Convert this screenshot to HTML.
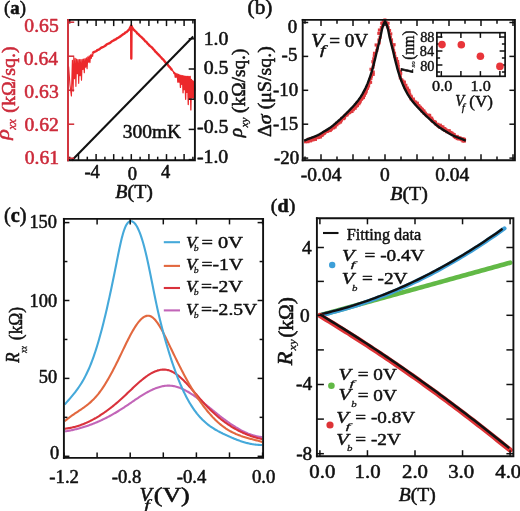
<!DOCTYPE html>
<html><head><meta charset="utf-8"><title>Figure</title>
<style>html,body{margin:0;padding:0;background:#fff;}body{width:520px;height:511px;overflow:hidden;}svg{display:block;}</style>
</head><body><svg width="520" height="511" viewBox="0 0 520 511"><path d="M92.50,53.09 L93.50,52.33 L94.50,51.77 L95.50,51.40 L96.50,51.00 L97.50,49.89 L98.50,49.83 L99.50,49.24 L100.50,48.22 L101.50,47.68 L102.50,47.10 L103.50,46.77 L104.50,46.26 L105.50,45.60 L106.50,44.55 L107.50,43.94 L108.50,43.60 L109.50,43.17 L110.50,42.48 L111.50,41.66 L112.50,40.92 L113.50,40.64 L114.50,39.78 L115.50,39.60 L116.50,38.76 L117.50,38.06 L118.50,37.73 L119.50,36.83 L120.50,36.32 L121.50,35.44 L122.50,34.73 L123.50,34.01 L124.50,33.54 L125.50,32.39 L126.50,32.03 L127.50,31.15 L128.50,30.20 L129.50,28.90 L130.70,26.60 L131.20,25.60 L131.30,58.50 L131.50,25.80 L132.20,27.66 L133.20,29.24 L134.20,30.16 L135.20,31.10 L136.20,31.88 L137.20,33.39 L138.20,33.94 L139.20,35.13 L140.20,36.06 L141.20,36.92 L142.20,37.87 L143.20,38.81 L144.20,39.89 L145.20,41.20 L146.20,41.84 L147.20,43.05 L148.20,44.05 L149.20,45.22 L150.20,46.09 L151.20,46.92 L152.20,47.75 L153.20,49.08 L154.20,49.97 L155.20,51.43 L156.20,52.19 L157.20,53.35 L158.20,54.38 L159.20,55.38 L160.20,56.50 L161.20,57.50 L162.20,58.81 L163.20,59.54 L164.20,60.74 L165.20,62.14 L166.20,63.29 L167.20,63.97 L168.20,65.45 L169.20,66.58 L170.20,67.60 L171.20,69.06 L172.20,70.34" fill="none" stroke="#ec282b" stroke-width="2.4" stroke-linejoin="round"/><path d="M68.60,66.60 L70.00,85.00 L71.40,96.00 L72.40,60.25 L73.10,91.36 L73.80,57.00 L74.50,78.63 L75.20,58.25 L75.90,86.34 L76.60,59.18 L77.30,73.70 L78.00,59.50 L78.70,83.33 L79.40,59.56 L80.10,75.61 L80.80,59.56 L81.50,80.29 L82.20,59.40 L82.90,69.39 L83.60,59.09 L84.30,72.67 L85.00,58.60 L85.70,67.10 L86.40,57.75 L87.10,68.78 L87.80,56.84 L88.50,62.18 L89.20,55.82 L89.90,62.76 L90.60,54.83 L91.30,58.36 L92.00,53.90 L92.70,56.29 L93.00,53.30" fill="none" stroke="#ec282b" stroke-width="1.15" stroke-linejoin="round"/><path d="M172.00,70.30 L172.65,70.90 L173.30,71.34 L173.95,73.59 L174.60,72.38 L175.25,77.27 L175.90,73.42 L176.55,77.15 L177.20,73.96 L177.85,82.09 L178.50,74.45 L179.15,82.14 L179.80,74.94 L180.45,87.42 L181.10,75.42 L181.75,84.23 L182.40,75.65 L183.05,92.84 L183.70,75.89 L184.35,89.62 L185.00,76.12 L185.65,99.30 L186.30,76.31 L186.95,92.41 L187.60,76.37 L188.25,104.56 L188.90,76.43 L189.55,98.45 L190.20,76.49 L190.85,109.94 L191.50,79.42 L192.15,97.72 L192.80,80.66 L193.45,98.04 L194.10,81.44 L194.75,90.50 L194.20,81.50" fill="none" stroke="#ec282b" stroke-width="1.3" stroke-linejoin="round"/><line x1="71.8" y1="160.6" x2="193.2" y2="36.4" stroke="#111" stroke-width="2.1"/><path d="M68.0,19.9 L194.9,19.9 L194.9,160.3 L68.0,160.3" fill="none" stroke="#111" stroke-width="1.9" stroke-linejoin="miter" stroke-linecap="square"/><path d="M68.0,161.25 L68.0,18.95" fill="none" stroke="#d02c36" stroke-width="1.9"/><line x1="78.50" y1="19.9" x2="78.50" y2="26.10" stroke="#111" stroke-width="1.5"/><line x1="96.10" y1="19.9" x2="96.10" y2="26.10" stroke="#111" stroke-width="1.5"/><line x1="113.70" y1="19.9" x2="113.70" y2="26.10" stroke="#111" stroke-width="1.5"/><line x1="131.30" y1="19.9" x2="131.30" y2="26.10" stroke="#111" stroke-width="1.5"/><line x1="148.90" y1="19.9" x2="148.90" y2="26.10" stroke="#111" stroke-width="1.5"/><line x1="166.50" y1="19.9" x2="166.50" y2="26.10" stroke="#111" stroke-width="1.5"/><line x1="184.10" y1="19.9" x2="184.10" y2="26.10" stroke="#111" stroke-width="1.5"/><line x1="69.70" y1="19.9" x2="69.70" y2="23.50" stroke="#111" stroke-width="1.5"/><line x1="87.30" y1="19.9" x2="87.30" y2="23.50" stroke="#111" stroke-width="1.5"/><line x1="104.90" y1="19.9" x2="104.90" y2="23.50" stroke="#111" stroke-width="1.5"/><line x1="122.50" y1="19.9" x2="122.50" y2="23.50" stroke="#111" stroke-width="1.5"/><line x1="140.10" y1="19.9" x2="140.10" y2="23.50" stroke="#111" stroke-width="1.5"/><line x1="157.70" y1="19.9" x2="157.70" y2="23.50" stroke="#111" stroke-width="1.5"/><line x1="175.30" y1="19.9" x2="175.30" y2="23.50" stroke="#111" stroke-width="1.5"/><line x1="192.90" y1="19.9" x2="192.90" y2="23.50" stroke="#111" stroke-width="1.5"/><line x1="78.50" y1="160.3" x2="78.50" y2="154.10" stroke="#111" stroke-width="1.5"/><line x1="96.10" y1="160.3" x2="96.10" y2="154.10" stroke="#111" stroke-width="1.5"/><line x1="113.70" y1="160.3" x2="113.70" y2="154.10" stroke="#111" stroke-width="1.5"/><line x1="131.30" y1="160.3" x2="131.30" y2="154.10" stroke="#111" stroke-width="1.5"/><line x1="148.90" y1="160.3" x2="148.90" y2="154.10" stroke="#111" stroke-width="1.5"/><line x1="166.50" y1="160.3" x2="166.50" y2="154.10" stroke="#111" stroke-width="1.5"/><line x1="184.10" y1="160.3" x2="184.10" y2="154.10" stroke="#111" stroke-width="1.5"/><line x1="69.70" y1="160.3" x2="69.70" y2="156.70" stroke="#111" stroke-width="1.5"/><line x1="87.30" y1="160.3" x2="87.30" y2="156.70" stroke="#111" stroke-width="1.5"/><line x1="104.90" y1="160.3" x2="104.90" y2="156.70" stroke="#111" stroke-width="1.5"/><line x1="122.50" y1="160.3" x2="122.50" y2="156.70" stroke="#111" stroke-width="1.5"/><line x1="140.10" y1="160.3" x2="140.10" y2="156.70" stroke="#111" stroke-width="1.5"/><line x1="157.70" y1="160.3" x2="157.70" y2="156.70" stroke="#111" stroke-width="1.5"/><line x1="175.30" y1="160.3" x2="175.30" y2="156.70" stroke="#111" stroke-width="1.5"/><line x1="192.90" y1="160.3" x2="192.90" y2="156.70" stroke="#111" stroke-width="1.5"/><line x1="68.0" y1="22.20" x2="74.20" y2="22.20" stroke="#d02c36" stroke-width="1.5"/><line x1="68.0" y1="56.20" x2="74.20" y2="56.20" stroke="#d02c36" stroke-width="1.5"/><line x1="68.0" y1="90.20" x2="74.20" y2="90.20" stroke="#d02c36" stroke-width="1.5"/><line x1="68.0" y1="124.20" x2="74.20" y2="124.20" stroke="#d02c36" stroke-width="1.5"/><line x1="68.0" y1="158.20" x2="74.20" y2="158.20" stroke="#d02c36" stroke-width="1.5"/><line x1="194.9" y1="38.80" x2="188.70" y2="38.80" stroke="#111" stroke-width="1.5"/><line x1="194.9" y1="69.00" x2="188.70" y2="69.00" stroke="#111" stroke-width="1.5"/><line x1="194.9" y1="99.20" x2="188.70" y2="99.20" stroke="#111" stroke-width="1.5"/><line x1="194.9" y1="129.40" x2="188.70" y2="129.40" stroke="#111" stroke-width="1.5"/><line x1="194.9" y1="159.60" x2="188.70" y2="159.60" stroke="#111" stroke-width="1.5"/><g fill="#e0393e"><rect x="304.00" y="140.23" width="3.1" height="3.1"/><rect x="304.63" y="139.46" width="3.1" height="3.1"/><rect x="305.08" y="139.07" width="3.1" height="3.1"/><rect x="306.38" y="140.14" width="3.1" height="3.1"/><rect x="306.71" y="139.21" width="3.1" height="3.1"/><rect x="306.88" y="137.81" width="3.1" height="3.1"/><rect x="307.78" y="138.20" width="3.1" height="3.1"/><rect x="309.01" y="139.33" width="3.1" height="3.1"/><rect x="308.77" y="137.37" width="3.1" height="3.1"/><rect x="310.12" y="138.19" width="3.1" height="3.1"/><rect x="310.59" y="138.20" width="3.1" height="3.1"/><rect x="311.76" y="138.16" width="3.1" height="3.1"/><rect x="311.59" y="136.25" width="3.1" height="3.1"/><rect x="312.63" y="136.43" width="3.1" height="3.1"/><rect x="313.89" y="137.86" width="3.1" height="3.1"/><rect x="314.30" y="136.00" width="3.1" height="3.1"/><rect x="314.74" y="135.29" width="3.1" height="3.1"/><rect x="315.12" y="135.08" width="3.1" height="3.1"/><rect x="316.01" y="136.11" width="3.1" height="3.1"/><rect x="316.88" y="135.87" width="3.1" height="3.1"/><rect x="317.80" y="135.25" width="3.1" height="3.1"/><rect x="318.96" y="135.40" width="3.1" height="3.1"/><rect x="319.20" y="133.88" width="3.1" height="3.1"/><rect x="319.09" y="133.28" width="3.1" height="3.1"/><rect x="320.52" y="133.85" width="3.1" height="3.1"/><rect x="321.05" y="132.73" width="3.1" height="3.1"/><rect x="321.71" y="132.21" width="3.1" height="3.1"/><rect x="322.04" y="131.19" width="3.1" height="3.1"/><rect x="322.98" y="131.66" width="3.1" height="3.1"/><rect x="323.42" y="130.70" width="3.1" height="3.1"/><rect x="323.95" y="130.06" width="3.1" height="3.1"/><rect x="324.45" y="129.91" width="3.1" height="3.1"/><rect x="325.57" y="129.91" width="3.1" height="3.1"/><rect x="325.99" y="129.33" width="3.1" height="3.1"/><rect x="327.14" y="129.09" width="3.1" height="3.1"/><rect x="327.77" y="128.79" width="3.1" height="3.1"/><rect x="328.64" y="128.94" width="3.1" height="3.1"/><rect x="328.93" y="128.07" width="3.1" height="3.1"/><rect x="329.80" y="127.65" width="3.1" height="3.1"/><rect x="330.21" y="126.80" width="3.1" height="3.1"/><rect x="330.88" y="125.87" width="3.1" height="3.1"/><rect x="332.06" y="126.31" width="3.1" height="3.1"/><rect x="332.40" y="125.09" width="3.1" height="3.1"/><rect x="333.58" y="125.43" width="3.1" height="3.1"/><rect x="333.68" y="124.04" width="3.1" height="3.1"/><rect x="333.99" y="123.03" width="3.1" height="3.1"/><rect x="335.38" y="123.21" width="3.1" height="3.1"/><rect x="335.21" y="121.76" width="3.1" height="3.1"/><rect x="336.26" y="121.45" width="3.1" height="3.1"/><rect x="337.28" y="121.49" width="3.1" height="3.1"/><rect x="337.83" y="120.21" width="3.1" height="3.1"/><rect x="338.98" y="120.48" width="3.1" height="3.1"/><rect x="339.28" y="119.16" width="3.1" height="3.1"/><rect x="339.80" y="118.50" width="3.1" height="3.1"/><rect x="339.98" y="117.52" width="3.1" height="3.1"/><rect x="340.49" y="116.79" width="3.1" height="3.1"/><rect x="341.99" y="117.12" width="3.1" height="3.1"/><rect x="342.71" y="116.44" width="3.1" height="3.1"/><rect x="343.02" y="115.75" width="3.1" height="3.1"/><rect x="343.08" y="114.49" width="3.1" height="3.1"/><rect x="344.07" y="113.67" width="3.1" height="3.1"/><rect x="345.30" y="113.53" width="3.1" height="3.1"/><rect x="345.85" y="112.53" width="3.1" height="3.1"/><rect x="345.92" y="111.60" width="3.1" height="3.1"/><rect x="346.96" y="111.39" width="3.1" height="3.1"/><rect x="347.96" y="111.07" width="3.1" height="3.1"/><rect x="348.66" y="110.25" width="3.1" height="3.1"/><rect x="349.96" y="109.93" width="3.1" height="3.1"/><rect x="350.42" y="109.86" width="3.1" height="3.1"/><rect x="350.43" y="107.91" width="3.1" height="3.1"/><rect x="351.76" y="108.16" width="3.1" height="3.1"/><rect x="352.13" y="107.02" width="3.1" height="3.1"/><rect x="353.61" y="106.67" width="3.1" height="3.1"/><rect x="353.59" y="105.13" width="3.1" height="3.1"/><rect x="354.49" y="104.95" width="3.1" height="3.1"/><rect x="355.59" y="104.07" width="3.1" height="3.1"/><rect x="355.90" y="103.81" width="3.1" height="3.1"/><rect x="355.23" y="101.72" width="3.1" height="3.1"/><rect x="357.40" y="102.18" width="3.1" height="3.1"/><rect x="358.01" y="100.81" width="3.1" height="3.1"/><rect x="358.54" y="100.06" width="3.1" height="3.1"/><rect x="358.74" y="98.73" width="3.1" height="3.1"/><rect x="359.96" y="97.74" width="3.1" height="3.1"/><rect x="360.53" y="96.75" width="3.1" height="3.1"/><rect x="361.92" y="96.01" width="3.1" height="3.1"/><rect x="361.80" y="95.05" width="3.1" height="3.1"/><rect x="362.79" y="93.84" width="3.1" height="3.1"/><rect x="362.86" y="92.34" width="3.1" height="3.1"/><rect x="363.93" y="91.66" width="3.1" height="3.1"/><rect x="364.58" y="90.18" width="3.1" height="3.1"/><rect x="364.92" y="88.29" width="3.1" height="3.1"/><rect x="365.83" y="86.86" width="3.1" height="3.1"/><rect x="366.26" y="85.50" width="3.1" height="3.1"/><rect x="367.04" y="84.26" width="3.1" height="3.1"/><rect x="367.27" y="81.89" width="3.1" height="3.1"/><rect x="369.04" y="80.78" width="3.1" height="3.1"/><rect x="368.09" y="78.25" width="3.1" height="3.1"/><rect x="369.36" y="76.78" width="3.1" height="3.1"/><rect x="369.94" y="74.56" width="3.1" height="3.1"/><rect x="371.67" y="72.83" width="3.1" height="3.1"/><rect x="371.68" y="70.51" width="3.1" height="3.1"/><rect x="369.44" y="67.73" width="3.1" height="3.1"/><rect x="371.44" y="65.57" width="3.1" height="3.1"/><rect x="371.96" y="62.92" width="3.1" height="3.1"/><rect x="371.33" y="60.13" width="3.1" height="3.1"/><rect x="372.20" y="57.26" width="3.1" height="3.1"/><rect x="372.76" y="54.31" width="3.1" height="3.1"/><rect x="372.92" y="51.72" width="3.1" height="3.1"/><rect x="375.22" y="48.87" width="3.1" height="3.1"/><rect x="375.92" y="46.17" width="3.1" height="3.1"/><rect x="374.57" y="43.43" width="3.1" height="3.1"/><rect x="377.58" y="41.32" width="3.1" height="3.1"/><rect x="377.37" y="38.49" width="3.1" height="3.1"/><rect x="378.47" y="35.76" width="3.1" height="3.1"/><rect x="377.26" y="31.82" width="3.1" height="3.1"/><rect x="377.86" y="28.49" width="3.1" height="3.1"/><rect x="379.81" y="26.03" width="3.1" height="3.1"/><rect x="381.14" y="24.04" width="3.1" height="3.1"/><rect x="380.21" y="21.66" width="3.1" height="3.1"/><rect x="381.69" y="20.09" width="3.1" height="3.1"/><rect x="383.36" y="18.46" width="3.1" height="3.1"/><rect x="384.55" y="20.99" width="3.1" height="3.1"/><rect x="386.54" y="21.69" width="3.1" height="3.1"/><rect x="385.83" y="24.49" width="3.1" height="3.1"/><rect x="386.61" y="26.04" width="3.1" height="3.1"/><rect x="388.02" y="28.95" width="3.1" height="3.1"/><rect x="389.22" y="32.33" width="3.1" height="3.1"/><rect x="388.84" y="35.43" width="3.1" height="3.1"/><rect x="389.96" y="38.30" width="3.1" height="3.1"/><rect x="389.98" y="41.03" width="3.1" height="3.1"/><rect x="392.53" y="43.14" width="3.1" height="3.1"/><rect x="391.44" y="46.04" width="3.1" height="3.1"/><rect x="392.04" y="48.93" width="3.1" height="3.1"/><rect x="392.96" y="51.67" width="3.1" height="3.1"/><rect x="393.36" y="54.65" width="3.1" height="3.1"/><rect x="395.00" y="57.09" width="3.1" height="3.1"/><rect x="396.06" y="59.94" width="3.1" height="3.1"/><rect x="396.39" y="62.68" width="3.1" height="3.1"/><rect x="396.71" y="64.96" width="3.1" height="3.1"/><rect x="397.20" y="68.02" width="3.1" height="3.1"/><rect x="398.54" y="69.81" width="3.1" height="3.1"/><rect x="399.14" y="71.78" width="3.1" height="3.1"/><rect x="398.68" y="74.07" width="3.1" height="3.1"/><rect x="398.76" y="76.32" width="3.1" height="3.1"/><rect x="400.17" y="78.22" width="3.1" height="3.1"/><rect x="401.26" y="79.50" width="3.1" height="3.1"/><rect x="402.83" y="80.55" width="3.1" height="3.1"/><rect x="402.51" y="82.81" width="3.1" height="3.1"/><rect x="404.31" y="83.73" width="3.1" height="3.1"/><rect x="403.45" y="86.07" width="3.1" height="3.1"/><rect x="405.68" y="86.47" width="3.1" height="3.1"/><rect x="405.99" y="87.76" width="3.1" height="3.1"/><rect x="407.30" y="88.85" width="3.1" height="3.1"/><rect x="407.49" y="90.43" width="3.1" height="3.1"/><rect x="407.27" y="91.88" width="3.1" height="3.1"/><rect x="408.20" y="92.83" width="3.1" height="3.1"/><rect x="408.10" y="94.32" width="3.1" height="3.1"/><rect x="409.64" y="94.71" width="3.1" height="3.1"/><rect x="409.76" y="95.99" width="3.1" height="3.1"/><rect x="409.58" y="97.36" width="3.1" height="3.1"/><rect x="411.79" y="97.49" width="3.1" height="3.1"/><rect x="411.82" y="98.85" width="3.1" height="3.1"/><rect x="412.27" y="99.66" width="3.1" height="3.1"/><rect x="413.39" y="100.45" width="3.1" height="3.1"/><rect x="414.11" y="100.71" width="3.1" height="3.1"/><rect x="414.40" y="101.94" width="3.1" height="3.1"/><rect x="415.79" y="101.65" width="3.1" height="3.1"/><rect x="415.89" y="103.23" width="3.1" height="3.1"/><rect x="416.20" y="104.07" width="3.1" height="3.1"/><rect x="417.27" y="104.04" width="3.1" height="3.1"/><rect x="417.71" y="105.44" width="3.1" height="3.1"/><rect x="418.80" y="105.76" width="3.1" height="3.1"/><rect x="419.22" y="106.76" width="3.1" height="3.1"/><rect x="420.09" y="107.33" width="3.1" height="3.1"/><rect x="420.76" y="107.95" width="3.1" height="3.1"/><rect x="420.50" y="109.44" width="3.1" height="3.1"/><rect x="422.23" y="109.25" width="3.1" height="3.1"/><rect x="422.43" y="110.32" width="3.1" height="3.1"/><rect x="422.65" y="111.66" width="3.1" height="3.1"/><rect x="423.78" y="111.59" width="3.1" height="3.1"/><rect x="424.15" y="112.74" width="3.1" height="3.1"/><rect x="424.68" y="113.15" width="3.1" height="3.1"/><rect x="425.46" y="114.09" width="3.1" height="3.1"/><rect x="426.82" y="113.68" width="3.1" height="3.1"/><rect x="428.08" y="113.81" width="3.1" height="3.1"/><rect x="428.00" y="114.91" width="3.1" height="3.1"/><rect x="428.16" y="115.88" width="3.1" height="3.1"/><rect x="428.78" y="116.86" width="3.1" height="3.1"/><rect x="430.12" y="116.62" width="3.1" height="3.1"/><rect x="429.95" y="118.34" width="3.1" height="3.1"/><rect x="430.94" y="118.46" width="3.1" height="3.1"/><rect x="430.93" y="119.66" width="3.1" height="3.1"/><rect x="432.09" y="119.90" width="3.1" height="3.1"/><rect x="432.67" y="120.12" width="3.1" height="3.1"/><rect x="433.90" y="120.69" width="3.1" height="3.1"/><rect x="433.79" y="121.50" width="3.1" height="3.1"/><rect x="434.35" y="122.52" width="3.1" height="3.1"/><rect x="435.46" y="122.97" width="3.1" height="3.1"/><rect x="436.28" y="122.77" width="3.1" height="3.1"/><rect x="436.53" y="123.87" width="3.1" height="3.1"/><rect x="436.81" y="124.62" width="3.1" height="3.1"/><rect x="438.80" y="123.65" width="3.1" height="3.1"/><rect x="438.17" y="125.66" width="3.1" height="3.1"/><rect x="439.62" y="125.26" width="3.1" height="3.1"/><rect x="440.38" y="125.56" width="3.1" height="3.1"/><rect x="441.38" y="125.40" width="3.1" height="3.1"/><rect x="441.38" y="127.02" width="3.1" height="3.1"/><rect x="441.90" y="126.98" width="3.1" height="3.1"/><rect x="443.25" y="127.06" width="3.1" height="3.1"/><rect x="442.96" y="128.38" width="3.1" height="3.1"/><rect x="443.84" y="128.30" width="3.1" height="3.1"/><rect x="444.67" y="128.50" width="3.1" height="3.1"/><rect x="444.94" y="129.70" width="3.1" height="3.1"/><rect x="445.55" y="130.26" width="3.1" height="3.1"/><rect x="446.77" y="129.36" width="3.1" height="3.1"/><rect x="447.75" y="129.22" width="3.1" height="3.1"/><rect x="447.62" y="131.08" width="3.1" height="3.1"/><rect x="449.18" y="130.88" width="3.1" height="3.1"/><rect x="449.08" y="131.49" width="3.1" height="3.1"/><rect x="449.96" y="131.70" width="3.1" height="3.1"/><rect x="450.61" y="131.74" width="3.1" height="3.1"/><rect x="451.50" y="132.80" width="3.1" height="3.1"/><rect x="451.97" y="132.88" width="3.1" height="3.1"/><rect x="452.73" y="133.15" width="3.1" height="3.1"/><rect x="452.68" y="134.90" width="3.1" height="3.1"/><rect x="453.44" y="135.25" width="3.1" height="3.1"/><rect x="454.00" y="135.78" width="3.1" height="3.1"/><rect x="454.61" y="136.03" width="3.1" height="3.1"/><rect x="455.69" y="134.88" width="3.1" height="3.1"/><rect x="455.67" y="137.00" width="3.1" height="3.1"/><rect x="456.97" y="136.46" width="3.1" height="3.1"/><rect x="457.12" y="137.32" width="3.1" height="3.1"/><rect x="458.43" y="136.29" width="3.1" height="3.1"/><rect x="458.51" y="137.20" width="3.1" height="3.1"/><rect x="459.51" y="137.41" width="3.1" height="3.1"/><rect x="460.06" y="138.00" width="3.1" height="3.1"/><rect x="460.63" y="138.33" width="3.1" height="3.1"/><rect x="461.52" y="137.25" width="3.1" height="3.1"/><rect x="461.48" y="139.49" width="3.1" height="3.1"/><rect x="462.88" y="137.82" width="3.1" height="3.1"/><rect x="462.91" y="139.43" width="3.1" height="3.1"/></g><path d="M304.20,140.75 L304.60,140.55 L305.01,140.36 L305.41,140.17 L305.82,139.99 L306.22,139.81 L306.62,139.63 L307.03,139.46 L307.43,139.30 L307.84,139.13 L308.24,138.97 L308.64,138.82 L309.05,138.66 L309.45,138.51 L309.86,138.36 L310.26,138.21 L310.66,138.06 L311.07,137.91 L311.47,137.77 L311.88,137.62 L312.28,137.47 L312.68,137.32 L313.09,137.17 L313.49,137.02 L313.90,136.86 L314.30,136.71 L314.70,136.55 L315.11,136.38 L315.51,136.22 L315.92,136.05 L316.32,135.87 L316.72,135.69 L317.13,135.51 L317.53,135.32 L317.94,135.13 L318.34,134.92 L318.74,134.71 L319.15,134.48 L319.55,134.25 L319.96,134.02 L320.36,133.78 L320.76,133.53 L321.17,133.29 L321.57,133.04 L321.98,132.79 L322.38,132.53 L322.78,132.29 L323.19,132.04 L323.59,131.79 L324.00,131.55 L324.40,131.31 L324.80,131.07 L325.21,130.84 L325.61,130.60 L326.02,130.36 L326.42,130.12 L326.82,129.88 L327.23,129.63 L327.63,129.39 L328.04,129.14 L328.44,128.88 L328.84,128.62 L329.25,128.35 L329.65,128.08 L330.06,127.80 L330.46,127.51 L330.86,127.22 L331.27,126.91 L331.67,126.60 L332.08,126.29 L332.48,125.96 L332.88,125.64 L333.29,125.30 L333.69,124.96 L334.10,124.62 L334.50,124.28 L334.90,123.93 L335.31,123.58 L335.71,123.23 L336.12,122.87 L336.52,122.52 L336.92,122.16 L337.33,121.81 L337.73,121.45 L338.14,121.09 L338.54,120.74 L338.94,120.38 L339.35,120.02 L339.75,119.65 L340.16,119.29 L340.56,118.92 L340.96,118.55 L341.37,118.18 L341.77,117.81 L342.18,117.44 L342.58,117.06 L342.98,116.68 L343.39,116.30 L343.79,115.92 L344.20,115.53 L344.60,115.14 L345.00,114.75 L345.41,114.35 L345.81,113.95 L346.22,113.55 L346.62,113.15 L347.02,112.74 L347.43,112.33 L347.83,111.91 L348.24,111.49 L348.64,111.08 L349.04,110.66 L349.45,110.24 L349.85,109.82 L350.26,109.40 L350.66,108.98 L351.06,108.56 L351.47,108.13 L351.87,107.71 L352.28,107.28 L352.68,106.84 L353.08,106.41 L353.49,105.97 L353.89,105.52 L354.30,105.07 L354.70,104.61 L355.10,104.14 L355.51,103.67 L355.91,103.20 L356.32,102.71 L356.72,102.21 L357.12,101.71 L357.53,101.20 L357.93,100.68 L358.34,100.15 L358.74,99.60 L359.14,99.05 L359.55,98.49 L359.95,97.91 L360.36,97.32 L360.76,96.71 L361.16,96.08 L361.57,95.43 L361.97,94.77 L362.38,94.09 L362.78,93.39 L363.18,92.67 L363.59,91.94 L363.99,91.18 L364.40,90.40 L364.80,89.61 L365.20,88.79 L365.61,87.96 L366.01,87.10 L366.42,86.22 L366.82,85.31 L367.22,84.36 L367.63,83.38 L368.03,82.36 L368.44,81.31 L368.84,80.22 L369.24,79.11 L369.65,77.96 L370.05,76.79 L370.46,75.58 L370.86,74.35 L371.26,73.10 L371.67,71.81 L372.07,70.48 L372.48,69.07 L372.88,67.59 L373.28,66.05 L373.69,64.48 L374.09,62.89 L374.50,61.29 L374.90,59.64 L375.30,57.94 L375.71,56.20 L376.11,54.45 L376.52,52.72 L376.92,51.02 L377.32,49.37 L377.73,47.76 L378.13,46.17 L378.54,44.59 L378.94,43.00 L379.34,41.39 L379.75,39.75 L380.15,38.04 L380.56,36.18 L380.96,34.20 L381.36,32.20 L381.77,30.29 L382.17,28.56 L382.58,27.11 L382.98,25.88 L383.38,24.72 L383.79,23.67 L384.19,22.73 L384.60,21.93 L385.00,21.29 L385.40,21.93 L385.81,22.73 L386.21,23.67 L386.62,24.72 L387.02,25.88 L387.42,27.11 L387.83,28.56 L388.23,30.29 L388.64,32.20 L389.04,34.20 L389.44,36.18 L389.85,38.04 L390.25,39.75 L390.66,41.39 L391.06,43.00 L391.46,44.59 L391.87,46.17 L392.27,47.76 L392.68,49.37 L393.08,51.02 L393.48,52.72 L393.89,54.45 L394.29,56.20 L394.70,57.94 L395.10,59.64 L395.50,61.29 L395.91,62.89 L396.31,64.48 L396.72,66.05 L397.12,67.59 L397.52,69.07 L397.93,70.48 L398.33,71.81 L398.74,73.10 L399.14,74.35 L399.54,75.58 L399.95,76.79 L400.35,77.96 L400.76,79.11 L401.16,80.22 L401.56,81.31 L401.97,82.36 L402.37,83.38 L402.78,84.36 L403.18,85.31 L403.58,86.22 L403.99,87.10 L404.39,87.96 L404.80,88.79 L405.20,89.61 L405.60,90.40 L406.01,91.18 L406.41,91.94 L406.82,92.67 L407.22,93.39 L407.62,94.09 L408.03,94.77 L408.43,95.43 L408.84,96.08 L409.24,96.71 L409.64,97.32 L410.05,97.91 L410.45,98.49 L410.86,99.05 L411.26,99.60 L411.66,100.15 L412.07,100.68 L412.47,101.20 L412.88,101.71 L413.28,102.21 L413.68,102.71 L414.09,103.20 L414.49,103.67 L414.90,104.14 L415.30,104.61 L415.70,105.07 L416.11,105.52 L416.51,105.97 L416.92,106.41 L417.32,106.84 L417.72,107.28 L418.13,107.71 L418.53,108.13 L418.94,108.56 L419.34,108.98 L419.74,109.40 L420.15,109.82 L420.55,110.24 L420.96,110.66 L421.36,111.08 L421.76,111.49 L422.17,111.91 L422.57,112.33 L422.98,112.74 L423.38,113.15 L423.78,113.55 L424.19,113.95 L424.59,114.35 L425.00,114.75 L425.40,115.14 L425.80,115.53 L426.21,115.92 L426.61,116.30 L427.02,116.68 L427.42,117.06 L427.82,117.44 L428.23,117.81 L428.63,118.18 L429.04,118.55 L429.44,118.92 L429.84,119.29 L430.25,119.65 L430.65,120.02 L431.06,120.38 L431.46,120.74 L431.86,121.09 L432.27,121.45 L432.67,121.81 L433.08,122.16 L433.48,122.52 L433.88,122.87 L434.29,123.23 L434.69,123.58 L435.10,123.93 L435.50,124.28 L435.90,124.62 L436.31,124.96 L436.71,125.30 L437.12,125.64 L437.52,125.96 L437.92,126.29 L438.33,126.60 L438.73,126.91 L439.14,127.22 L439.54,127.51 L439.94,127.80 L440.35,128.08 L440.75,128.35 L441.16,128.62 L441.56,128.88 L441.96,129.14 L442.37,129.39 L442.77,129.63 L443.18,129.88 L443.58,130.12 L443.98,130.36 L444.39,130.60 L444.79,130.84 L445.20,131.07 L445.60,131.31 L446.00,131.55 L446.41,131.79 L446.81,132.04 L447.22,132.29 L447.62,132.53 L448.02,132.79 L448.43,133.04 L448.83,133.29 L449.24,133.53 L449.64,133.78 L450.04,134.02 L450.45,134.25 L450.85,134.48 L451.26,134.71 L451.66,134.92 L452.06,135.13 L452.47,135.32 L452.87,135.51 L453.28,135.69 L453.68,135.87 L454.08,136.05 L454.49,136.22 L454.89,136.38 L455.30,136.55 L455.70,136.71 L456.10,136.86 L456.51,137.02 L456.91,137.17 L457.32,137.32 L457.72,137.47 L458.12,137.62 L458.53,137.77 L458.93,137.91 L459.34,138.06 L459.74,138.21 L460.14,138.36 L460.55,138.51 L460.95,138.66 L461.36,138.82 L461.76,138.97 L462.16,139.13 L462.57,139.30 L462.97,139.46 L463.38,139.63 L463.78,139.81 L464.18,139.99 L464.59,140.17 L464.99,140.36 L465.40,140.55 L465.80,140.75" fill="none" stroke="#111" stroke-width="2.4" stroke-linejoin="round"/><path d="M302.7,19.9 L514.9,19.9 L514.9,160.3 L302.7,160.3" fill="none" stroke="#111" stroke-width="1.9" stroke-linejoin="miter" stroke-linecap="square"/><path d="M302.7,161.25 L302.7,18.95" fill="none" stroke="#111" stroke-width="1.9"/><line x1="321.00" y1="160.3" x2="321.00" y2="154.30" stroke="#111" stroke-width="1.5"/><line x1="353.00" y1="160.3" x2="353.00" y2="154.30" stroke="#111" stroke-width="1.5"/><line x1="385.00" y1="160.3" x2="385.00" y2="154.30" stroke="#111" stroke-width="1.5"/><line x1="417.00" y1="160.3" x2="417.00" y2="154.30" stroke="#111" stroke-width="1.5"/><line x1="449.00" y1="160.3" x2="449.00" y2="154.30" stroke="#111" stroke-width="1.5"/><line x1="481.00" y1="160.3" x2="481.00" y2="154.30" stroke="#111" stroke-width="1.5"/><line x1="513.00" y1="160.3" x2="513.00" y2="154.30" stroke="#111" stroke-width="1.5"/><line x1="321.00" y1="19.9" x2="321.00" y2="25.90" stroke="#111" stroke-width="1.5"/><line x1="353.00" y1="19.9" x2="353.00" y2="25.90" stroke="#111" stroke-width="1.5"/><line x1="385.00" y1="19.9" x2="385.00" y2="25.90" stroke="#111" stroke-width="1.5"/><line x1="417.00" y1="19.9" x2="417.00" y2="25.90" stroke="#111" stroke-width="1.5"/><line x1="449.00" y1="19.9" x2="449.00" y2="25.90" stroke="#111" stroke-width="1.5"/><line x1="481.00" y1="19.9" x2="481.00" y2="25.90" stroke="#111" stroke-width="1.5"/><line x1="513.00" y1="19.9" x2="513.00" y2="25.90" stroke="#111" stroke-width="1.5"/><line x1="305.00" y1="160.3" x2="305.00" y2="156.50" stroke="#111" stroke-width="1.5"/><line x1="337.00" y1="160.3" x2="337.00" y2="156.50" stroke="#111" stroke-width="1.5"/><line x1="369.00" y1="160.3" x2="369.00" y2="156.50" stroke="#111" stroke-width="1.5"/><line x1="401.00" y1="160.3" x2="401.00" y2="156.50" stroke="#111" stroke-width="1.5"/><line x1="433.00" y1="160.3" x2="433.00" y2="156.50" stroke="#111" stroke-width="1.5"/><line x1="465.00" y1="160.3" x2="465.00" y2="156.50" stroke="#111" stroke-width="1.5"/><line x1="497.00" y1="160.3" x2="497.00" y2="156.50" stroke="#111" stroke-width="1.5"/><line x1="305.00" y1="19.9" x2="305.00" y2="23.70" stroke="#111" stroke-width="1.5"/><line x1="337.00" y1="19.9" x2="337.00" y2="23.70" stroke="#111" stroke-width="1.5"/><line x1="369.00" y1="19.9" x2="369.00" y2="23.70" stroke="#111" stroke-width="1.5"/><line x1="401.00" y1="19.9" x2="401.00" y2="23.70" stroke="#111" stroke-width="1.5"/><line x1="433.00" y1="19.9" x2="433.00" y2="23.70" stroke="#111" stroke-width="1.5"/><line x1="465.00" y1="19.9" x2="465.00" y2="23.70" stroke="#111" stroke-width="1.5"/><line x1="497.00" y1="19.9" x2="497.00" y2="23.70" stroke="#111" stroke-width="1.5"/><line x1="302.7" y1="22.50" x2="308.20" y2="22.50" stroke="#111" stroke-width="1.5"/><line x1="302.7" y1="56.40" x2="308.20" y2="56.40" stroke="#111" stroke-width="1.5"/><line x1="302.7" y1="90.30" x2="308.20" y2="90.30" stroke="#111" stroke-width="1.5"/><line x1="302.7" y1="124.20" x2="308.20" y2="124.20" stroke="#111" stroke-width="1.5"/><line x1="302.7" y1="158.10" x2="308.20" y2="158.10" stroke="#111" stroke-width="1.5"/><line x1="514.9" y1="22.50" x2="509.40" y2="22.50" stroke="#111" stroke-width="1.5"/><line x1="514.9" y1="56.40" x2="509.40" y2="56.40" stroke="#111" stroke-width="1.5"/><line x1="514.9" y1="90.30" x2="509.40" y2="90.30" stroke="#111" stroke-width="1.5"/><line x1="514.9" y1="124.20" x2="509.40" y2="124.20" stroke="#111" stroke-width="1.5"/><line x1="514.9" y1="158.10" x2="509.40" y2="158.10" stroke="#111" stroke-width="1.5"/><rect x="436.9" y="32.7" width="68.20" height="43.60" fill="#fff" stroke="#111" stroke-width="1.7"/><line x1="441.30" y1="76.3" x2="441.30" y2="71.10" stroke="#111" stroke-width="1.5"/><line x1="460.90" y1="76.3" x2="460.90" y2="71.10" stroke="#111" stroke-width="1.5"/><line x1="480.40" y1="76.3" x2="480.40" y2="71.10" stroke="#111" stroke-width="1.5"/><line x1="499.90" y1="76.3" x2="499.90" y2="71.10" stroke="#111" stroke-width="1.5"/><line x1="441.30" y1="32.7" x2="441.30" y2="37.90" stroke="#111" stroke-width="1.5"/><line x1="460.90" y1="32.7" x2="460.90" y2="37.90" stroke="#111" stroke-width="1.5"/><line x1="480.40" y1="32.7" x2="480.40" y2="37.90" stroke="#111" stroke-width="1.5"/><line x1="499.90" y1="32.7" x2="499.90" y2="37.90" stroke="#111" stroke-width="1.5"/><line x1="436.9" y1="37.00" x2="442.40" y2="37.00" stroke="#111" stroke-width="1.5"/><line x1="436.9" y1="51.00" x2="442.40" y2="51.00" stroke="#111" stroke-width="1.5"/><line x1="436.9" y1="65.00" x2="442.40" y2="65.00" stroke="#111" stroke-width="1.5"/><line x1="436.9" y1="44.00" x2="440.10" y2="44.00" stroke="#111" stroke-width="1.5"/><line x1="436.9" y1="58.00" x2="440.10" y2="58.00" stroke="#111" stroke-width="1.5"/><line x1="436.9" y1="72.00" x2="440.10" y2="72.00" stroke="#111" stroke-width="1.5"/><line x1="505.1" y1="37.00" x2="499.60" y2="37.00" stroke="#111" stroke-width="1.5"/><line x1="505.1" y1="51.00" x2="499.60" y2="51.00" stroke="#111" stroke-width="1.5"/><line x1="505.1" y1="65.00" x2="499.60" y2="65.00" stroke="#111" stroke-width="1.5"/><line x1="505.1" y1="44.00" x2="501.90" y2="44.00" stroke="#111" stroke-width="1.5"/><line x1="505.1" y1="58.00" x2="501.90" y2="58.00" stroke="#111" stroke-width="1.5"/><line x1="505.1" y1="72.00" x2="501.90" y2="72.00" stroke="#111" stroke-width="1.5"/><circle cx="442.0" cy="44.6" r="3.8" fill="#e8353a"/><circle cx="461.3" cy="44.7" r="3.8" fill="#e8353a"/><circle cx="480.4" cy="56.2" r="3.8" fill="#e8353a"/><circle cx="499.9" cy="66.4" r="3.8" fill="#e8353a"/><path d="M64.70,431.45 L65.53,431.32 L66.35,431.19 L67.18,431.05 L68.01,430.91 L68.83,430.76 L69.66,430.60 L70.49,430.44 L71.31,430.28 L72.14,430.10 L72.97,429.92 L73.79,429.74 L74.62,429.55 L75.45,429.35 L76.27,429.15 L77.10,428.94 L77.93,428.73 L78.76,428.51 L79.58,428.28 L80.41,428.05 L81.24,427.81 L82.06,427.57 L82.89,427.32 L83.72,427.06 L84.54,426.80 L85.37,426.54 L86.20,426.26 L87.02,425.99 L87.85,425.70 L88.68,425.41 L89.50,425.11 L90.33,424.81 L91.16,424.50 L91.98,424.19 L92.81,423.87 L93.64,423.54 L94.46,423.21 L95.29,422.88 L96.12,422.53 L96.94,422.18 L97.77,421.83 L98.60,421.47 L99.42,421.10 L100.25,420.72 L101.08,420.34 L101.91,419.96 L102.73,419.57 L103.56,419.17 L104.39,418.77 L105.21,418.36 L106.04,417.94 L106.87,417.52 L107.69,417.10 L108.52,416.66 L109.35,416.22 L110.17,415.78 L111.00,415.33 L111.83,414.87 L112.65,414.41 L113.48,413.94 L114.31,413.46 L115.13,412.98 L115.96,412.49 L116.79,412.00 L117.61,411.50 L118.44,411.00 L119.27,410.48 L120.09,409.97 L120.92,409.44 L121.75,408.91 L122.57,408.38 L123.40,407.84 L124.23,407.29 L125.05,406.74 L125.88,406.19 L126.71,405.63 L127.54,405.07 L128.36,404.51 L129.19,403.94 L130.02,403.38 L130.84,402.81 L131.67,402.25 L132.50,401.68 L133.32,401.12 L134.15,400.55 L134.98,399.99 L135.80,399.44 L136.63,398.88 L137.46,398.33 L138.28,397.78 L139.11,397.24 L139.94,396.71 L140.76,396.18 L141.59,395.65 L142.42,395.14 L143.24,394.63 L144.07,394.13 L144.90,393.64 L145.72,393.15 L146.55,392.68 L147.38,392.22 L148.20,391.77 L149.03,391.33 L149.86,390.90 L150.68,390.48 L151.51,390.08 L152.34,389.69 L153.17,389.32 L153.99,388.96 L154.82,388.61 L155.65,388.28 L156.47,387.97 L157.30,387.67 L158.13,387.40 L158.95,387.14 L159.78,386.89 L160.61,386.67 L161.43,386.47 L162.26,386.28 L163.09,386.12 L163.91,385.98 L164.74,385.86 L165.57,385.77 L166.39,385.69 L167.22,385.64 L168.05,385.62 L168.87,385.61 L169.70,385.64 L170.53,385.69 L171.35,385.76 L172.18,385.86 L173.01,385.98 L173.83,386.13 L174.66,386.30 L175.49,386.50 L176.32,386.71 L177.14,386.95 L177.97,387.21 L178.80,387.49 L179.62,387.79 L180.45,388.11 L181.28,388.45 L182.10,388.80 L182.93,389.18 L183.76,389.57 L184.58,389.98 L185.41,390.41 L186.24,390.85 L187.06,391.31 L187.89,391.78 L188.72,392.27 L189.54,392.77 L190.37,393.29 L191.20,393.81 L192.02,394.35 L192.85,394.90 L193.68,395.47 L194.50,396.04 L195.33,396.62 L196.16,397.21 L196.98,397.82 L197.81,398.43 L198.64,399.04 L199.46,399.67 L200.29,400.30 L201.12,400.94 L201.95,401.59 L202.77,402.24 L203.60,402.89 L204.43,403.55 L205.25,404.21 L206.08,404.88 L206.91,405.55 L207.73,406.22 L208.56,406.89 L209.39,407.57 L210.21,408.24 L211.04,408.91 L211.87,409.59 L212.69,410.26 L213.52,410.93 L214.35,411.60 L215.17,412.27 L216.00,412.93 L216.83,413.59 L217.65,414.25 L218.48,414.90 L219.31,415.55 L220.13,416.20 L220.96,416.84 L221.79,417.47 L222.61,418.10 L223.44,418.73 L224.27,419.35 L225.09,419.96 L225.92,420.57 L226.75,421.17 L227.58,421.76 L228.40,422.35 L229.23,422.93 L230.06,423.50 L230.88,424.06 L231.71,424.62 L232.54,425.17 L233.36,425.71 L234.19,426.24 L235.02,426.76 L235.84,427.27 L236.67,427.77 L237.50,428.26 L238.32,428.74 L239.15,429.21 L239.98,429.67 L240.80,430.12 L241.63,430.56 L242.46,430.99 L243.28,431.40 L244.11,431.81 L244.94,432.20 L245.76,432.57 L246.59,432.94 L247.42,433.29 L248.24,433.63 L249.07,433.95 L249.90,434.26 L250.73,434.56 L251.55,434.84 L252.38,435.10 L253.21,435.36 L254.03,435.59 L254.86,435.81 L255.69,436.02 L256.51,436.21 L257.34,436.38 L258.17,436.53 L258.99,436.67 L259.82,436.79 L260.65,436.90 L261.47,436.98 L262.30,437.05" fill="none" stroke="#c265b8" stroke-width="2.1" stroke-linejoin="round"/><path d="M64.70,428.69 L65.53,428.61 L66.35,428.51 L67.18,428.40 L68.01,428.28 L68.83,428.15 L69.66,428.01 L70.49,427.85 L71.31,427.69 L72.14,427.51 L72.97,427.32 L73.79,427.12 L74.62,426.91 L75.45,426.69 L76.27,426.46 L77.10,426.22 L77.93,425.97 L78.76,425.70 L79.58,425.43 L80.41,425.15 L81.24,424.85 L82.06,424.54 L82.89,424.23 L83.72,423.90 L84.54,423.56 L85.37,423.22 L86.20,422.86 L87.02,422.49 L87.85,422.11 L88.68,421.72 L89.50,421.33 L90.33,420.92 L91.16,420.50 L91.98,420.07 L92.81,419.63 L93.64,419.19 L94.46,418.73 L95.29,418.26 L96.12,417.79 L96.94,417.30 L97.77,416.80 L98.60,416.30 L99.42,415.78 L100.25,415.26 L101.08,414.73 L101.91,414.18 L102.73,413.63 L103.56,413.07 L104.39,412.50 L105.21,411.92 L106.04,411.33 L106.87,410.73 L107.69,410.13 L108.52,409.51 L109.35,408.89 L110.17,408.26 L111.00,407.61 L111.83,406.96 L112.65,406.31 L113.48,405.64 L114.31,404.96 L115.13,404.28 L115.96,403.59 L116.79,402.88 L117.61,402.18 L118.44,401.46 L119.27,400.73 L120.09,400.00 L120.92,399.26 L121.75,398.50 L122.57,397.75 L123.40,396.98 L124.23,396.21 L125.05,395.43 L125.88,394.65 L126.71,393.87 L127.54,393.08 L128.36,392.29 L129.19,391.50 L130.02,390.71 L130.84,389.93 L131.67,389.14 L132.50,388.36 L133.32,387.58 L134.15,386.80 L134.98,386.03 L135.80,385.27 L136.63,384.51 L137.46,383.77 L138.28,383.03 L139.11,382.30 L139.94,381.58 L140.76,380.88 L141.59,380.18 L142.42,379.50 L143.24,378.84 L144.07,378.19 L144.90,377.56 L145.72,376.94 L146.55,376.34 L147.38,375.76 L148.20,375.21 L149.03,374.67 L149.86,374.15 L150.68,373.66 L151.51,373.19 L152.34,372.74 L153.17,372.32 L153.99,371.93 L154.82,371.56 L155.65,371.22 L156.47,370.91 L157.30,370.63 L158.13,370.38 L158.95,370.16 L159.78,369.98 L160.61,369.83 L161.43,369.71 L162.26,369.63 L163.09,369.58 L163.91,369.57 L164.74,369.60 L165.57,369.67 L166.39,369.78 L167.22,369.92 L168.05,370.11 L168.87,370.34 L169.70,370.62 L170.53,370.93 L171.35,371.29 L172.18,371.69 L173.01,372.12 L173.83,372.59 L174.66,373.09 L175.49,373.63 L176.32,374.20 L177.14,374.80 L177.97,375.43 L178.80,376.09 L179.62,376.78 L180.45,377.49 L181.28,378.23 L182.10,378.99 L182.93,379.78 L183.76,380.58 L184.58,381.41 L185.41,382.25 L186.24,383.11 L187.06,383.99 L187.89,384.88 L188.72,385.78 L189.54,386.69 L190.37,387.62 L191.20,388.55 L192.02,389.50 L192.85,390.45 L193.68,391.40 L194.50,392.36 L195.33,393.32 L196.16,394.28 L196.98,395.25 L197.81,396.21 L198.64,397.17 L199.46,398.12 L200.29,399.07 L201.12,400.02 L201.95,400.95 L202.77,401.88 L203.60,402.80 L204.43,403.71 L205.25,404.60 L206.08,405.48 L206.91,406.35 L207.73,407.20 L208.56,408.05 L209.39,408.88 L210.21,409.69 L211.04,410.50 L211.87,411.29 L212.69,412.07 L213.52,412.84 L214.35,413.59 L215.17,414.34 L216.00,415.07 L216.83,415.79 L217.65,416.50 L218.48,417.19 L219.31,417.88 L220.13,418.55 L220.96,419.21 L221.79,419.86 L222.61,420.49 L223.44,421.12 L224.27,421.74 L225.09,422.34 L225.92,422.93 L226.75,423.51 L227.58,424.08 L228.40,424.64 L229.23,425.19 L230.06,425.73 L230.88,426.26 L231.71,426.77 L232.54,427.28 L233.36,427.77 L234.19,428.26 L235.02,428.73 L235.84,429.20 L236.67,429.65 L237.50,430.10 L238.32,430.53 L239.15,430.96 L239.98,431.37 L240.80,431.77 L241.63,432.17 L242.46,432.55 L243.28,432.93 L244.11,433.30 L244.94,433.65 L245.76,434.00 L246.59,434.34 L247.42,434.67 L248.24,434.99 L249.07,435.30 L249.90,435.60 L250.73,435.89 L251.55,436.18 L252.38,436.45 L253.21,436.72 L254.03,436.98 L254.86,437.23 L255.69,437.47 L256.51,437.70 L257.34,437.92 L258.17,438.14 L258.99,438.35 L259.82,438.55 L260.65,438.74 L261.47,438.92 L262.30,439.10" fill="none" stroke="#d9323c" stroke-width="2.1" stroke-linejoin="round"/><path d="M64.70,421.28 L65.53,420.55 L66.35,419.85 L67.18,419.16 L68.01,418.50 L68.83,417.86 L69.66,417.23 L70.49,416.62 L71.31,416.02 L72.14,415.43 L72.97,414.85 L73.79,414.28 L74.62,413.72 L75.45,413.17 L76.27,412.62 L77.10,412.07 L77.93,411.52 L78.76,410.97 L79.58,410.42 L80.41,409.87 L81.24,409.31 L82.06,408.75 L82.89,408.17 L83.72,407.59 L84.54,406.99 L85.37,406.38 L86.20,405.76 L87.02,405.12 L87.85,404.46 L88.68,403.78 L89.50,403.09 L90.33,402.37 L91.16,401.62 L91.98,400.85 L92.81,400.05 L93.64,399.23 L94.46,398.37 L95.29,397.48 L96.12,396.56 L96.94,395.60 L97.77,394.61 L98.60,393.58 L99.42,392.50 L100.25,391.40 L101.08,390.25 L101.91,389.07 L102.73,387.86 L103.56,386.61 L104.39,385.33 L105.21,384.01 L106.04,382.67 L106.87,381.29 L107.69,379.89 L108.52,378.46 L109.35,377.00 L110.17,375.52 L111.00,374.01 L111.83,372.48 L112.65,370.93 L113.48,369.35 L114.31,367.75 L115.13,366.13 L115.96,364.50 L116.79,362.84 L117.61,361.17 L118.44,359.48 L119.27,357.78 L120.09,356.06 L120.92,354.34 L121.75,352.61 L122.57,350.88 L123.40,349.16 L124.23,347.43 L125.05,345.72 L125.88,344.02 L126.71,342.33 L127.54,340.67 L128.36,339.03 L129.19,337.41 L130.02,335.83 L130.84,334.28 L131.67,332.76 L132.50,331.29 L133.32,329.86 L134.15,328.48 L134.98,327.15 L135.80,325.87 L136.63,324.65 L137.46,323.50 L138.28,322.41 L139.11,321.39 L139.94,320.44 L140.76,319.56 L141.59,318.77 L142.42,318.06 L143.24,317.44 L144.07,316.90 L144.90,316.46 L145.72,316.12 L146.55,315.87 L147.38,315.73 L148.20,315.70 L149.03,315.78 L149.86,315.98 L150.68,316.29 L151.51,316.72 L152.34,317.27 L153.17,317.92 L153.99,318.68 L154.82,319.54 L155.65,320.49 L156.47,321.53 L157.30,322.65 L158.13,323.85 L158.95,325.12 L159.78,326.46 L160.61,327.86 L161.43,329.32 L162.26,330.82 L163.09,332.38 L163.91,333.97 L164.74,335.61 L165.57,337.27 L166.39,338.95 L167.22,340.66 L168.05,342.38 L168.87,344.11 L169.70,345.85 L170.53,347.58 L171.35,349.31 L172.18,351.03 L173.01,352.75 L173.83,354.45 L174.66,356.15 L175.49,357.84 L176.32,359.52 L177.14,361.20 L177.97,362.86 L178.80,364.51 L179.62,366.14 L180.45,367.77 L181.28,369.38 L182.10,370.98 L182.93,372.57 L183.76,374.14 L184.58,375.69 L185.41,377.23 L186.24,378.75 L187.06,380.26 L187.89,381.74 L188.72,383.21 L189.54,384.66 L190.37,386.09 L191.20,387.50 L192.02,388.90 L192.85,390.27 L193.68,391.62 L194.50,392.95 L195.33,394.26 L196.16,395.55 L196.98,396.82 L197.81,398.06 L198.64,399.29 L199.46,400.50 L200.29,401.69 L201.12,402.86 L201.95,404.01 L202.77,405.14 L203.60,406.25 L204.43,407.34 L205.25,408.40 L206.08,409.45 L206.91,410.48 L207.73,411.49 L208.56,412.47 L209.39,413.44 L210.21,414.39 L211.04,415.31 L211.87,416.22 L212.69,417.11 L213.52,417.97 L214.35,418.82 L215.17,419.64 L216.00,420.45 L216.83,421.23 L217.65,422.00 L218.48,422.74 L219.31,423.46 L220.13,424.17 L220.96,424.85 L221.79,425.51 L222.61,426.16 L223.44,426.78 L224.27,427.38 L225.09,427.96 L225.92,428.53 L226.75,429.07 L227.58,429.59 L228.40,430.10 L229.23,430.59 L230.06,431.06 L230.88,431.51 L231.71,431.95 L232.54,432.37 L233.36,432.78 L234.19,433.17 L235.02,433.55 L235.84,433.92 L236.67,434.27 L237.50,434.61 L238.32,434.94 L239.15,435.26 L239.98,435.57 L240.80,435.87 L241.63,436.15 L242.46,436.43 L243.28,436.71 L244.11,436.97 L244.94,437.23 L245.76,437.48 L246.59,437.72 L247.42,437.96 L248.24,438.19 L249.07,438.42 L249.90,438.65 L250.73,438.87 L251.55,439.09 L252.38,439.30 L253.21,439.52 L254.03,439.73 L254.86,439.95 L255.69,440.16 L256.51,440.38 L257.34,440.59 L258.17,440.81 L258.99,441.03 L259.82,441.25 L260.65,441.47 L261.47,441.70 L262.30,441.94" fill="none" stroke="#e2683f" stroke-width="2.1" stroke-linejoin="round"/><path d="M64.70,404.49 L65.53,403.54 L66.35,402.60 L67.18,401.66 L68.01,400.73 L68.83,399.79 L69.66,398.84 L70.49,397.88 L71.31,396.92 L72.14,395.94 L72.97,394.94 L73.79,393.92 L74.62,392.89 L75.45,391.82 L76.27,390.73 L77.10,389.61 L77.93,388.46 L78.76,387.27 L79.58,386.04 L80.41,384.77 L81.24,383.45 L82.06,382.09 L82.89,380.68 L83.72,379.22 L84.54,377.70 L85.37,376.13 L86.20,374.49 L87.02,372.79 L87.85,371.03 L88.68,369.20 L89.50,367.29 L90.33,365.31 L91.16,363.26 L91.98,361.12 L92.81,358.90 L93.64,356.60 L94.46,354.21 L95.29,351.73 L96.12,349.17 L96.94,346.51 L97.77,343.78 L98.60,340.96 L99.42,338.07 L100.25,335.09 L101.08,332.04 L101.91,328.91 L102.73,325.71 L103.56,322.44 L104.39,319.09 L105.21,315.68 L106.04,312.19 L106.87,308.64 L107.69,305.03 L108.52,301.35 L109.35,297.61 L110.17,293.81 L111.00,289.96 L111.83,286.04 L112.65,282.07 L113.48,278.05 L114.31,273.98 L115.13,269.85 L115.96,265.68 L116.79,261.50 L117.61,257.34 L118.44,253.25 L119.27,249.26 L120.09,245.42 L120.92,241.77 L121.75,238.34 L122.57,235.17 L123.40,232.31 L124.23,229.78 L125.05,227.62 L125.88,225.81 L126.71,224.32 L127.54,223.15 L128.36,222.26 L129.19,221.65 L130.02,221.29 L130.84,221.17 L131.67,221.26 L132.50,221.56 L133.32,222.05 L134.15,222.75 L134.98,223.65 L135.80,224.75 L136.63,226.04 L137.46,227.53 L138.28,229.21 L139.11,231.08 L139.94,233.14 L140.76,235.39 L141.59,237.83 L142.42,240.46 L143.24,243.27 L144.07,246.26 L144.90,249.44 L145.72,252.79 L146.55,256.32 L147.38,260.01 L148.20,263.82 L149.03,267.74 L149.86,271.75 L150.68,275.82 L151.51,279.94 L152.34,284.08 L153.17,288.23 L153.99,292.35 L154.82,296.43 L155.65,300.45 L156.47,304.39 L157.30,308.22 L158.13,311.92 L158.95,315.50 L159.78,318.96 L160.61,322.32 L161.43,325.59 L162.26,328.77 L163.09,331.88 L163.91,334.92 L164.74,337.91 L165.57,340.84 L166.39,343.72 L167.22,346.54 L168.05,349.31 L168.87,352.02 L169.70,354.67 L170.53,357.28 L171.35,359.82 L172.18,362.32 L173.01,364.76 L173.83,367.14 L174.66,369.47 L175.49,371.75 L176.32,373.98 L177.14,376.16 L177.97,378.28 L178.80,380.35 L179.62,382.36 L180.45,384.33 L181.28,386.25 L182.10,388.11 L182.93,389.92 L183.76,391.69 L184.58,393.40 L185.41,395.06 L186.24,396.67 L187.06,398.24 L187.89,399.75 L188.72,401.22 L189.54,402.65 L190.37,404.03 L191.20,405.36 L192.02,406.65 L192.85,407.90 L193.68,409.11 L194.50,410.28 L195.33,411.42 L196.16,412.51 L196.98,413.57 L197.81,414.59 L198.64,415.57 L199.46,416.53 L200.29,417.45 L201.12,418.33 L201.95,419.19 L202.77,420.02 L203.60,420.82 L204.43,421.59 L205.25,422.33 L206.08,423.05 L206.91,423.74 L207.73,424.41 L208.56,425.05 L209.39,425.67 L210.21,426.28 L211.04,426.86 L211.87,427.42 L212.69,427.96 L213.52,428.49 L214.35,429.00 L215.17,429.50 L216.00,429.98 L216.83,430.45 L217.65,430.91 L218.48,431.35 L219.31,431.79 L220.13,432.21 L220.96,432.63 L221.79,433.04 L222.61,433.45 L223.44,433.84 L224.27,434.24 L225.09,434.63 L225.92,435.02 L226.75,435.40 L227.58,435.78 L228.40,436.16 L229.23,436.53 L230.06,436.90 L230.88,437.26 L231.71,437.62 L232.54,437.97 L233.36,438.32 L234.19,438.66 L235.02,439.00 L235.84,439.33 L236.67,439.65 L237.50,439.96 L238.32,440.27 L239.15,440.57 L239.98,440.87 L240.80,441.15 L241.63,441.43 L242.46,441.70 L243.28,441.96 L244.11,442.21 L244.94,442.45 L245.76,442.68 L246.59,442.90 L247.42,443.12 L248.24,443.32 L249.07,443.51 L249.90,443.69 L250.73,443.86 L251.55,444.02 L252.38,444.17 L253.21,444.30 L254.03,444.42 L254.86,444.54 L255.69,444.63 L256.51,444.72 L257.34,444.79 L258.17,444.85 L258.99,444.89 L259.82,444.93 L260.65,444.94 L261.47,444.95 L262.30,444.93" fill="none" stroke="#45a9da" stroke-width="2.1" stroke-linejoin="round"/><line x1="163.8" y1="242.2" x2="180.0" y2="242.2" stroke="#45a9da" stroke-width="2.1"/><line x1="163.8" y1="265.9" x2="180.0" y2="265.9" stroke="#e2683f" stroke-width="2.1"/><line x1="163.8" y1="288.0" x2="180.0" y2="288.0" stroke="#d9323c" stroke-width="2.1"/><line x1="163.8" y1="310.4" x2="180.0" y2="310.4" stroke="#c265b8" stroke-width="2.1"/><path d="M63.9,218.9 L263.1,218.9 L263.1,457.9 L63.9,457.9" fill="none" stroke="#111" stroke-width="1.9" stroke-linejoin="miter" stroke-linecap="square"/><path d="M63.9,458.84999999999997 L63.9,217.95000000000002" fill="none" stroke="#111" stroke-width="1.9"/><line x1="64.00" y1="457.9" x2="64.00" y2="452.40" stroke="#111" stroke-width="1.5"/><line x1="97.10" y1="457.9" x2="97.10" y2="452.40" stroke="#111" stroke-width="1.5"/><line x1="130.20" y1="457.9" x2="130.20" y2="452.40" stroke="#111" stroke-width="1.5"/><line x1="163.30" y1="457.9" x2="163.30" y2="452.40" stroke="#111" stroke-width="1.5"/><line x1="196.40" y1="457.9" x2="196.40" y2="452.40" stroke="#111" stroke-width="1.5"/><line x1="229.50" y1="457.9" x2="229.50" y2="452.40" stroke="#111" stroke-width="1.5"/><line x1="262.60" y1="457.9" x2="262.60" y2="452.40" stroke="#111" stroke-width="1.5"/><line x1="64.00" y1="218.9" x2="64.00" y2="224.40" stroke="#111" stroke-width="1.5"/><line x1="97.10" y1="218.9" x2="97.10" y2="224.40" stroke="#111" stroke-width="1.5"/><line x1="130.20" y1="218.9" x2="130.20" y2="224.40" stroke="#111" stroke-width="1.5"/><line x1="163.30" y1="218.9" x2="163.30" y2="224.40" stroke="#111" stroke-width="1.5"/><line x1="196.40" y1="218.9" x2="196.40" y2="224.40" stroke="#111" stroke-width="1.5"/><line x1="229.50" y1="218.9" x2="229.50" y2="224.40" stroke="#111" stroke-width="1.5"/><line x1="262.60" y1="218.9" x2="262.60" y2="224.40" stroke="#111" stroke-width="1.5"/><line x1="63.9" y1="456.30" x2="69.40" y2="456.30" stroke="#111" stroke-width="1.5"/><line x1="63.9" y1="378.40" x2="69.40" y2="378.40" stroke="#111" stroke-width="1.5"/><line x1="63.9" y1="300.50" x2="69.40" y2="300.50" stroke="#111" stroke-width="1.5"/><line x1="63.9" y1="222.60" x2="69.40" y2="222.60" stroke="#111" stroke-width="1.5"/><line x1="63.9" y1="417.35" x2="67.40" y2="417.35" stroke="#111" stroke-width="1.5"/><line x1="63.9" y1="339.45" x2="67.40" y2="339.45" stroke="#111" stroke-width="1.5"/><line x1="63.9" y1="261.55" x2="67.40" y2="261.55" stroke="#111" stroke-width="1.5"/><line x1="263.1" y1="456.30" x2="257.60" y2="456.30" stroke="#111" stroke-width="1.5"/><line x1="263.1" y1="378.40" x2="257.60" y2="378.40" stroke="#111" stroke-width="1.5"/><line x1="263.1" y1="300.50" x2="257.60" y2="300.50" stroke="#111" stroke-width="1.5"/><line x1="263.1" y1="222.60" x2="257.60" y2="222.60" stroke="#111" stroke-width="1.5"/><line x1="263.1" y1="417.35" x2="259.60" y2="417.35" stroke="#111" stroke-width="1.5"/><line x1="263.1" y1="339.45" x2="259.60" y2="339.45" stroke="#111" stroke-width="1.5"/><line x1="263.1" y1="261.55" x2="259.60" y2="261.55" stroke="#111" stroke-width="1.5"/><path d="M320.00,315.30 L323.17,314.42 L326.34,313.55 L329.51,312.67 L332.68,311.79 L335.85,310.91 L339.01,310.04 L342.18,309.16 L345.35,308.28 L348.52,307.41 L351.69,306.53 L354.86,305.65 L358.03,304.78 L361.20,303.90 L364.37,303.02 L367.54,302.14 L370.71,301.27 L373.87,300.39 L377.04,299.51 L380.21,298.64 L383.38,297.76 L386.55,296.88 L389.72,296.01 L392.89,295.13 L396.06,294.25 L399.23,293.37 L402.40,292.50 L405.57,291.62 L408.73,290.74 L411.90,289.87 L415.07,288.99 L418.24,288.11 L421.41,287.24 L424.58,286.36 L427.75,285.48 L430.92,284.60 L434.09,283.73 L437.26,282.85 L440.43,281.97 L443.59,281.10 L446.76,280.22 L449.93,279.34 L453.10,278.46 L456.27,277.59 L459.44,276.71 L462.61,275.83 L465.78,274.96 L468.95,274.08 L472.12,273.20 L475.29,272.33 L478.45,271.45 L481.62,270.57 L484.79,269.69 L487.96,268.82 L491.13,267.94 L494.30,267.06 L497.47,266.19 L500.64,265.31 L503.81,264.43 L506.98,263.56 L510.15,262.68" fill="none" stroke="#62b946" stroke-width="4.6" stroke-linecap="round"/><path d="M320.00,315.30 L323.07,314.59 L326.15,313.86 L329.22,313.11 L332.30,312.33 L335.37,311.52 L338.45,310.69 L341.52,309.83 L344.60,308.95 L347.67,308.04 L350.75,307.11 L353.82,306.16 L356.89,305.17 L359.97,304.17 L363.04,303.13 L366.12,302.07 L369.19,300.99 L372.27,299.88 L375.34,298.75 L378.42,297.59 L381.49,296.41 L384.56,295.20 L387.64,293.96 L390.71,292.70 L393.79,291.42 L396.86,290.11 L399.94,288.77 L403.01,287.41 L406.09,286.03 L409.16,284.62 L412.24,283.18 L415.31,281.72 L418.38,280.24 L421.46,278.72 L424.53,277.19 L427.61,275.63 L430.68,274.04 L433.76,272.43 L436.83,270.79 L439.91,269.13 L442.98,267.44 L446.05,265.73 L449.13,263.99 L452.20,262.23 L455.28,260.44 L458.35,258.63 L461.43,256.79 L464.50,254.92 L467.58,253.03 L470.65,251.12 L473.73,249.18 L476.80,247.22 L479.87,245.23 L482.95,243.21 L486.02,241.17 L489.10,239.11 L492.17,237.02 L495.25,234.90 L498.32,232.76 L501.40,230.59 L504.47,228.40" fill="none" stroke="#3d9fd8" stroke-width="4.2" stroke-linecap="round"/><path d="M320.00,314.40 L323.04,313.70 L326.09,312.98 L329.13,312.23 L332.17,311.46 L335.21,310.66 L338.26,309.84 L341.30,309.00 L344.34,308.12 L347.39,307.23 L350.43,306.31 L353.47,305.36 L356.52,304.40 L359.56,303.40 L362.60,302.38 L365.64,301.34 L368.69,300.27 L371.73,299.18 L374.77,298.06 L377.82,296.92 L380.86,295.75 L383.90,294.56 L386.95,293.34 L389.99,292.10 L393.03,290.84 L396.07,289.55 L399.12,288.23 L402.16,286.89 L405.20,285.53 L408.25,284.14 L411.29,282.73 L414.33,281.29 L417.37,279.83 L420.42,278.34 L423.46,276.83 L426.50,275.29 L429.55,273.73 L432.59,272.14 L435.63,270.53 L438.68,268.90 L441.72,267.24 L444.76,265.55 L447.80,263.84 L450.85,262.11 L453.89,260.35 L456.93,258.57 L459.98,256.76 L463.02,254.92 L466.06,253.07 L469.11,251.19 L472.15,249.28 L475.19,247.35 L478.23,245.39 L481.28,243.41 L484.32,241.40 L487.36,239.37 L490.41,237.32 L493.45,235.24 L496.49,233.14 L499.54,231.01 L502.58,228.85" fill="none" stroke="#111" stroke-width="2.4"/><path d="M320.00,315.60 L323.17,317.51 L326.34,319.42 L329.51,321.35 L332.68,323.29 L335.85,325.25 L339.01,327.21 L342.18,329.19 L345.35,331.17 L348.52,333.17 L351.69,335.18 L354.86,337.20 L358.03,339.23 L361.20,341.27 L364.37,343.33 L367.54,345.39 L370.71,347.47 L373.87,349.56 L377.04,351.66 L380.21,353.77 L383.38,355.89 L386.55,358.02 L389.72,360.17 L392.89,362.33 L396.06,364.49 L399.23,366.67 L402.40,368.86 L405.57,371.07 L408.73,373.28 L411.90,375.50 L415.07,377.74 L418.24,379.99 L421.41,382.25 L424.58,384.52 L427.75,386.80 L430.92,389.09 L434.09,391.39 L437.26,393.71 L440.43,396.04 L443.59,398.37 L446.76,400.72 L449.93,403.08 L453.10,405.46 L456.27,407.84 L459.44,410.24 L462.61,412.64 L465.78,415.06 L468.95,417.49 L472.12,419.93 L475.29,422.38 L478.45,424.84 L481.62,427.32 L484.79,429.80 L487.96,432.30 L491.13,434.81 L494.30,437.33 L497.47,439.86 L500.64,442.40 L503.81,444.96 L506.98,447.52 L510.15,450.10" fill="none" stroke="#dd3336" stroke-width="5.2" stroke-linecap="round"/><path d="M320.00,314.40 L323.15,316.30 L326.31,318.21 L329.46,320.13 L332.61,322.06 L335.77,324.00 L338.92,325.95 L342.07,327.92 L345.23,329.89 L348.38,331.88 L351.53,333.88 L354.69,335.89 L357.84,337.91 L360.99,339.94 L364.15,341.98 L367.30,344.04 L370.45,346.10 L373.61,348.18 L376.76,350.27 L379.91,352.37 L383.07,354.48 L386.22,356.60 L389.37,358.73 L392.53,360.88 L395.68,363.03 L398.83,365.20 L401.99,367.38 L405.14,369.57 L408.29,371.77 L411.45,373.98 L414.60,376.21 L417.75,378.44 L420.91,380.69 L424.06,382.94 L427.21,385.21 L430.37,387.49 L433.52,389.78 L436.67,392.08 L439.83,394.40 L442.98,396.72 L446.13,399.06 L449.29,401.40 L452.44,403.76 L455.59,406.13 L458.75,408.51 L461.90,410.90 L465.05,413.31 L468.21,415.72 L471.36,418.15 L474.51,420.58 L477.67,423.03 L480.82,425.49 L483.97,427.96 L487.13,430.44 L490.28,432.93 L493.43,435.44 L496.59,437.95 L499.74,440.48 L502.89,443.02 L506.05,445.57 L509.20,448.13" fill="none" stroke="#111" stroke-width="2.5"/><path d="M316.9,218.3 L513.4,218.3 L513.4,456.2 L316.9,456.2" fill="none" stroke="#111" stroke-width="1.9" stroke-linejoin="miter" stroke-linecap="square"/><path d="M316.9,457.15 L316.9,217.35000000000002" fill="none" stroke="#111" stroke-width="1.9"/><line x1="319.90" y1="456.2" x2="319.90" y2="450.20" stroke="#111" stroke-width="1.5"/><line x1="367.45" y1="456.2" x2="367.45" y2="450.20" stroke="#111" stroke-width="1.5"/><line x1="415.00" y1="456.2" x2="415.00" y2="450.20" stroke="#111" stroke-width="1.5"/><line x1="462.55" y1="456.2" x2="462.55" y2="450.20" stroke="#111" stroke-width="1.5"/><line x1="510.10" y1="456.2" x2="510.10" y2="450.20" stroke="#111" stroke-width="1.5"/><line x1="319.90" y1="218.3" x2="319.90" y2="224.30" stroke="#111" stroke-width="1.5"/><line x1="367.45" y1="218.3" x2="367.45" y2="224.30" stroke="#111" stroke-width="1.5"/><line x1="415.00" y1="218.3" x2="415.00" y2="224.30" stroke="#111" stroke-width="1.5"/><line x1="462.55" y1="218.3" x2="462.55" y2="224.30" stroke="#111" stroke-width="1.5"/><line x1="510.10" y1="218.3" x2="510.10" y2="224.30" stroke="#111" stroke-width="1.5"/><line x1="316.9" y1="247.50" x2="323.90" y2="247.50" stroke="#111" stroke-width="1.5"/><line x1="316.9" y1="281.40" x2="323.90" y2="281.40" stroke="#111" stroke-width="1.5"/><line x1="316.9" y1="315.30" x2="323.90" y2="315.30" stroke="#111" stroke-width="1.5"/><line x1="316.9" y1="349.90" x2="323.90" y2="349.90" stroke="#111" stroke-width="1.5"/><line x1="316.9" y1="384.50" x2="323.90" y2="384.50" stroke="#111" stroke-width="1.5"/><line x1="316.9" y1="419.10" x2="323.90" y2="419.10" stroke="#111" stroke-width="1.5"/><line x1="316.9" y1="453.70" x2="323.90" y2="453.70" stroke="#111" stroke-width="1.5"/><line x1="513.4" y1="247.50" x2="506.40" y2="247.50" stroke="#111" stroke-width="1.5"/><line x1="513.4" y1="281.40" x2="506.40" y2="281.40" stroke="#111" stroke-width="1.5"/><line x1="513.4" y1="315.30" x2="506.40" y2="315.30" stroke="#111" stroke-width="1.5"/><line x1="513.4" y1="349.90" x2="506.40" y2="349.90" stroke="#111" stroke-width="1.5"/><line x1="513.4" y1="384.50" x2="506.40" y2="384.50" stroke="#111" stroke-width="1.5"/><line x1="513.4" y1="419.10" x2="506.40" y2="419.10" stroke="#111" stroke-width="1.5"/><line x1="513.4" y1="453.70" x2="506.40" y2="453.70" stroke="#111" stroke-width="1.5"/><line x1="323.0" y1="233.0" x2="338.5" y2="233.0" stroke="#111" stroke-width="2.1"/><circle cx="332.2" cy="265.0" r="3.2" fill="#3d9fd8"/><circle cx="331.4" cy="385.7" r="3.3" fill="#62b946"/><circle cx="330.0" cy="425.0" r="3.6" fill="#dd3336"/><g font-family="'Liberation Serif', 'Times New Roman', serif" font-size="100" stroke-width="2.8" stroke-linejoin="round"><text transform="translate(4.10,14.47) scale(0.1880,0.1944)" fill="#111" stroke="#111">(<tspan font-weight="bold">a</tspan>)</text><text transform="translate(24.36,31.66) scale(0.1964,0.1926)" fill="#cc2a3a" stroke="#cc2a3a">0.65</text><text transform="translate(23.78,64.66) scale(0.1964,0.1926)" fill="#cc2a3a" stroke="#cc2a3a">0.64</text><text transform="translate(24.36,97.66) scale(0.1964,0.1926)" fill="#cc2a3a" stroke="#cc2a3a">0.63</text><text transform="translate(24.56,130.66) scale(0.1964,0.1926)" fill="#cc2a3a" stroke="#cc2a3a">0.62</text><text transform="translate(24.76,163.66) scale(0.1964,0.1926)" fill="#cc2a3a" stroke="#cc2a3a">0.61</text><text transform="translate(15.14,112.75) rotate(-90) scale(0.2000,0.1956)" fill="#cc2a3a" stroke="#cc2a3a">(kΩ/sq.)</text><text transform="translate(15.85,129.83) rotate(-90) scale(0.1213,0.1304)" fill="#cc2a3a" stroke="#cc2a3a"><tspan font-style="italic">xx</tspan></text><text transform="translate(8.98,139.69) rotate(-90) scale(0.2188,0.1794)" fill="#cc2a3a" stroke="#cc2a3a"><tspan font-style="italic">ρ</tspan></text><text transform="translate(203.67,44.77) scale(0.1982,0.1897)" fill="#111" stroke="#111">1.0</text><text transform="translate(203.67,74.22) scale(0.1982,0.1897)" fill="#111" stroke="#111">0.5</text><text transform="translate(203.67,103.67) scale(0.1982,0.1897)" fill="#111" stroke="#111">0.0</text><text transform="translate(197.12,133.12) scale(0.1982,0.1897)" fill="#111" stroke="#111">-0.5</text><text transform="translate(196.93,162.57) scale(0.1982,0.1897)" fill="#111" stroke="#111">-1.0</text><text transform="translate(245.26,112.92) rotate(-90) scale(0.1935,0.1900)" fill="#111" stroke="#111">(kΩ/sq.)</text><text transform="translate(248.27,127.44) rotate(-90) scale(0.1122,0.1132)" fill="#111" stroke="#111"><tspan font-style="italic">xy</tspan></text><text transform="translate(242.17,137.26) rotate(-90) scale(0.1958,0.1941)" fill="#111" stroke="#111"><tspan font-style="italic">ρ</tspan></text><text transform="translate(84.41,178.07) scale(0.1857,0.1848)" fill="#111" stroke="#111">-4</text><text transform="translate(127.71,180.37) scale(0.1857,0.1848)" fill="#111" stroke="#111">0</text><text transform="translate(160.91,178.07) scale(0.1857,0.1848)" fill="#111" stroke="#111">4</text><text transform="translate(115.35,198.00) scale(0.1995,0.1978)" fill="#111" stroke="#111"><tspan font-style="italic">B</tspan>(T)</text><text transform="translate(122.68,138.17) scale(0.1949,0.1897)" fill="#111" stroke="#111">300mK</text><text transform="translate(247.60,14.21) scale(0.2130,0.2067)" fill="#111" stroke="#111">(b)</text><text transform="translate(287.84,33.17) scale(0.1893,0.1848)" fill="#111" stroke="#111">0</text><text transform="translate(281.59,61.07) scale(0.1893,0.1848)" fill="#111" stroke="#111">-5</text><text transform="translate(272.94,95.92) scale(0.1893,0.1848)" fill="#111" stroke="#111">-10</text><text transform="translate(272.93,129.81) scale(0.1893,0.1848)" fill="#111" stroke="#111">-15</text><text transform="translate(273.94,164.27) scale(0.1893,0.1848)" fill="#111" stroke="#111">-20</text><text transform="translate(271.17,136.95) rotate(-90) scale(0.1991,0.1944)" fill="#111" stroke="#111">Δ<tspan font-style="italic">σ</tspan> (μS/sq.)</text><text transform="translate(300.87,181.16) scale(0.1951,0.1956)" fill="#111" stroke="#111">-0.04</text><text transform="translate(379.92,180.66) scale(0.1951,0.1956)" fill="#111" stroke="#111">0</text><text transform="translate(435.14,181.26) scale(0.1951,0.1956)" fill="#111" stroke="#111">0.04</text><text transform="translate(390.25,200.17) scale(0.1989,0.1944)" fill="#111" stroke="#111"><tspan font-style="italic">B</tspan>(T)</text><text transform="translate(310.91,46.86) scale(0.2076,0.1925)" fill="#111" stroke="#111"><tspan font-style="italic">V</tspan></text><text transform="translate(319.95,54.05) scale(0.2000,0.1239)" fill="#111" stroke="#111"><tspan font-style="italic">f</tspan></text><text transform="translate(329.19,46.87) scale(0.1914,0.1897)" fill="#111" stroke="#111">= 0V</text><text transform="translate(420.18,41.95) scale(0.1435,0.1485)" fill="#111" stroke="#111">88</text><text transform="translate(419.75,55.65) scale(0.1435,0.1485)" fill="#111" stroke="#111">84</text><text transform="translate(420.18,70.70) scale(0.1435,0.1485)" fill="#111" stroke="#111">80</text><text transform="translate(432.07,90.85) scale(0.1621,0.1485)" fill="#111" stroke="#111">0.0</text><text transform="translate(470.52,90.85) scale(0.1621,0.1485)" fill="#111" stroke="#111">1.0</text><text transform="translate(455.32,105.74) scale(0.1455,0.1567)" fill="#111" stroke="#111"><tspan font-style="italic">V</tspan></text><text transform="translate(461.64,111.36) scale(0.1132,0.0946)" fill="#111" stroke="#111"><tspan font-style="italic">f</tspan></text><text transform="translate(469.27,106.59) scale(0.1700,0.1600)" fill="#111" stroke="#111">(V)</text><text transform="translate(413.86,59.85) rotate(-90) scale(0.1511,0.1567)" fill="#111" stroke="#111">(nm)</text><text transform="translate(415.48,67.42) rotate(-90) scale(0.0706,0.0688)" fill="#111" stroke="#111"><tspan font-style="italic">so</tspan></text><text transform="translate(412.85,73.80) rotate(-90) scale(0.2095,0.1565)" fill="#111" stroke="#111"><tspan font-style="italic">l</tspan></text><text transform="translate(4.04,222.33) scale(0.2029,0.2056)" fill="#111" stroke="#111">(<tspan font-weight="bold">c</tspan>)</text><text transform="translate(29.41,227.56) scale(0.1838,0.1816)" fill="#111" stroke="#111">150</text><text transform="translate(29.61,307.16) scale(0.1838,0.1816)" fill="#111" stroke="#111">100</text><text transform="translate(38.80,382.91) scale(0.1838,0.1816)" fill="#111" stroke="#111">50</text><text transform="translate(50.09,458.81) scale(0.1838,0.1816)" fill="#111" stroke="#111">0</text><text transform="translate(21.88,340.15) rotate(-90) scale(0.1742,0.1844)" fill="#111" stroke="#111">(kΩ)</text><text transform="translate(27.15,353.07) rotate(-90) scale(0.0787,0.1087)" fill="#111" stroke="#111"><tspan font-style="italic">xx</tspan></text><text transform="translate(18.76,362.75) rotate(-90) scale(0.1661,0.1894)" fill="#111" stroke="#111"><tspan font-style="italic">R</tspan></text><text transform="translate(49.34,482.78) scale(0.1874,0.1794)" fill="#111" stroke="#111">-1.2</text><text transform="translate(111.76,482.69) scale(0.1874,0.1794)" fill="#111" stroke="#111">-0.8</text><text transform="translate(176.77,482.69) scale(0.1874,0.1794)" fill="#111" stroke="#111">-0.4</text><text transform="translate(251.94,482.69) scale(0.1874,0.1794)" fill="#111" stroke="#111">0.0</text><text transform="translate(139.44,500.65) scale(0.2015,0.1985)" fill="#111" stroke="#111"><tspan font-style="italic">V</tspan></text><text transform="translate(144.25,509.81) scale(0.2000,0.1402)" fill="#111" stroke="#111"><tspan font-style="italic">f</tspan></text><text transform="translate(153.82,502.25) scale(0.2585,0.2189)" fill="#111" stroke="#111">(V)</text><text transform="translate(185.96,247.82) scale(0.1773,0.1672)" fill="#111" stroke="#111"><tspan font-style="italic">V</tspan></text><text transform="translate(193.66,250.86) scale(0.0977,0.0914)" fill="#111" stroke="#111"><tspan font-style="italic">b</tspan></text><text transform="translate(201.53,247.82) scale(0.2035,0.1647)" fill="#111" stroke="#111">= 0V</text><text transform="translate(185.96,270.12) scale(0.1773,0.1672)" fill="#111" stroke="#111"><tspan font-style="italic">V</tspan></text><text transform="translate(193.66,273.16) scale(0.0977,0.0914)" fill="#111" stroke="#111"><tspan font-style="italic">b</tspan></text><text transform="translate(201.57,270.12) scale(0.1956,0.1647)" fill="#111" stroke="#111">=-1V</text><text transform="translate(185.96,292.42) scale(0.1773,0.1672)" fill="#111" stroke="#111"><tspan font-style="italic">V</tspan></text><text transform="translate(193.66,295.46) scale(0.0977,0.0914)" fill="#111" stroke="#111"><tspan font-style="italic">b</tspan></text><text transform="translate(201.07,292.42) scale(0.1956,0.1647)" fill="#111" stroke="#111">=-2V</text><text transform="translate(185.96,314.72) scale(0.1773,0.1672)" fill="#111" stroke="#111"><tspan font-style="italic">V</tspan></text><text transform="translate(193.66,317.76) scale(0.0977,0.0914)" fill="#111" stroke="#111"><tspan font-style="italic">b</tspan></text><text transform="translate(201.07,314.72) scale(0.1956,0.1647)" fill="#111" stroke="#111">=-2.5V</text><text transform="translate(270.85,211.71) scale(0.2000,0.1922)" fill="#111" stroke="#111">(<tspan font-weight="bold">d</tspan>)</text><text transform="translate(302.06,254.40) scale(0.1936,0.1844)" fill="#111" stroke="#111">4</text><text transform="translate(300.04,322.45) scale(0.1936,0.1844)" fill="#111" stroke="#111">0</text><text transform="translate(295.97,389.95) scale(0.1936,0.1844)" fill="#111" stroke="#111">-4</text><text transform="translate(296.16,460.35) scale(0.1936,0.1844)" fill="#111" stroke="#111">-8</text><text transform="translate(292.93,337.70) rotate(-90) scale(0.2126,0.2011)" fill="#111" stroke="#111">(kΩ)</text><text transform="translate(295.90,350.42) rotate(-90) scale(0.1256,0.1074)" fill="#111" stroke="#111"><tspan font-style="italic">xy</tspan></text><text transform="translate(292.04,365.15) rotate(-90) scale(0.2220,0.2136)" fill="#111" stroke="#111"><tspan font-style="italic">R</tspan></text><text transform="translate(309.28,478.37) scale(0.2083,0.1897)" fill="#111" stroke="#111">0.0</text><text transform="translate(354.61,478.37) scale(0.2083,0.1897)" fill="#111" stroke="#111">1.0</text><text transform="translate(401.98,478.37) scale(0.2083,0.1897)" fill="#111" stroke="#111">2.0</text><text transform="translate(448.18,478.37) scale(0.2083,0.1897)" fill="#111" stroke="#111">3.0</text><text transform="translate(495.23,478.37) scale(0.2083,0.1897)" fill="#111" stroke="#111">4.0</text><text transform="translate(398.85,500.78) scale(0.1951,0.1889)" fill="#111" stroke="#111"><tspan font-style="italic">B</tspan>(T)</text><text transform="translate(346.66,240.04) scale(0.1628,0.1578)" fill="#111" stroke="#111">Fitting data</text><text transform="translate(342.03,260.88) scale(0.2030,0.1612)" fill="#111" stroke="#111"><tspan font-style="italic">V</tspan></text><text transform="translate(350.78,267.13) scale(0.1711,0.0913)" fill="#111" stroke="#111"><tspan font-style="italic">f</tspan></text><text transform="translate(364.59,261.32) scale(0.1922,0.1632)" fill="#111" stroke="#111">= -0.4V</text><text transform="translate(341.83,283.98) scale(0.2030,0.1612)" fill="#111" stroke="#111"><tspan font-style="italic">V</tspan></text><text transform="translate(352.11,291.36) scale(0.1093,0.0914)" fill="#111" stroke="#111"><tspan font-style="italic">b</tspan></text><text transform="translate(361.99,283.72) scale(0.1922,0.1632)" fill="#111" stroke="#111">= -2V</text><text transform="translate(338.53,379.63) scale(0.2030,0.1612)" fill="#111" stroke="#111"><tspan font-style="italic">V</tspan></text><text transform="translate(349.68,386.03) scale(0.1711,0.0913)" fill="#111" stroke="#111"><tspan font-style="italic">f</tspan></text><text transform="translate(357.69,379.97) scale(0.1922,0.1632)" fill="#111" stroke="#111">= 0V</text><text transform="translate(338.53,400.38) scale(0.2030,0.1612)" fill="#111" stroke="#111"><tspan font-style="italic">V</tspan></text><text transform="translate(351.21,406.66) scale(0.1093,0.0914)" fill="#111" stroke="#111"><tspan font-style="italic">b</tspan></text><text transform="translate(357.69,400.67) scale(0.1922,0.1632)" fill="#111" stroke="#111">= 0V</text><text transform="translate(336.13,422.63) scale(0.2030,0.1612)" fill="#111" stroke="#111"><tspan font-style="italic">V</tspan></text><text transform="translate(345.68,429.03) scale(0.1711,0.0913)" fill="#111" stroke="#111"><tspan font-style="italic">f</tspan></text><text transform="translate(355.29,422.87) scale(0.1922,0.1632)" fill="#111" stroke="#111">= -0.8V</text><text transform="translate(336.13,444.73) scale(0.2030,0.1612)" fill="#111" stroke="#111"><tspan font-style="italic">V</tspan></text><text transform="translate(347.11,451.36) scale(0.1093,0.0914)" fill="#111" stroke="#111"><tspan font-style="italic">b</tspan></text><text transform="translate(355.29,444.97) scale(0.1922,0.1632)" fill="#111" stroke="#111">= -2V</text></g></svg></body></html>
